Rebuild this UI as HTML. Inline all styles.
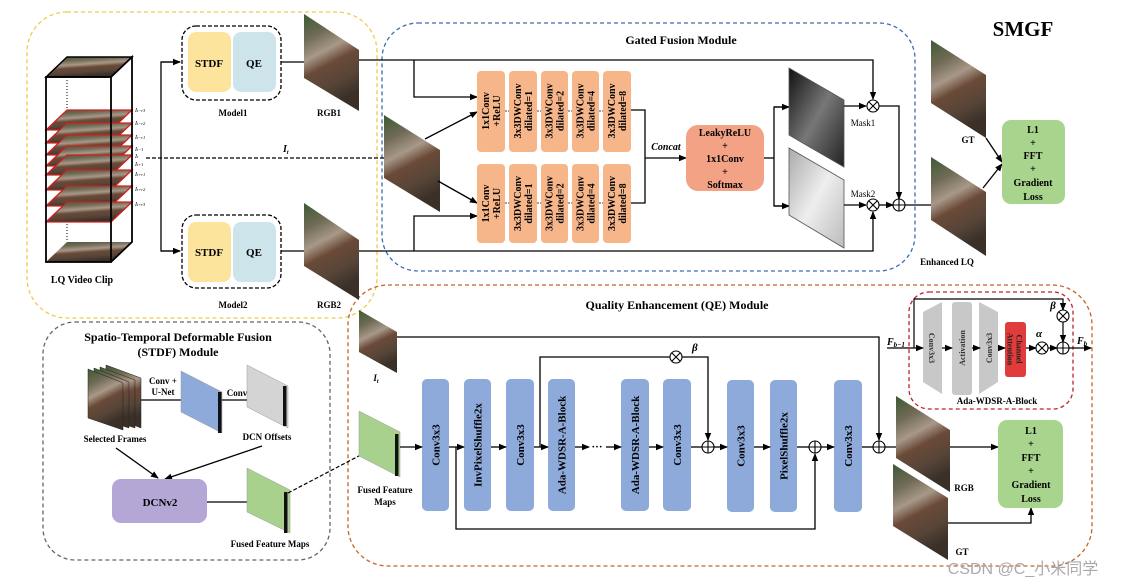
<!DOCTYPE html>
<html><head><meta charset="utf-8"><style>
html,body{margin:0;padding:0;background:#fff;}
svg{display:block;font-family:"Liberation Serif",serif;font-weight:bold;}
</style></head><body>
<svg width="1124" height="587" viewBox="0 0 1124 587" xmlns="http://www.w3.org/2000/svg">
<defs>
<marker id="a" markerWidth="8" markerHeight="8" refX="7" refY="4" orient="auto" markerUnits="userSpaceOnUse"><path d="M0,0.8 L8,4 L0,7.2 Z" fill="#000"/></marker>
<linearGradient id="ph" x1="0" y1="0" x2="0.3" y2="1">
<stop offset="0" stop-color="#3d5a35"/><stop offset="0.25" stop-color="#6f6a55"/><stop offset="0.45" stop-color="#a89888"/><stop offset="0.6" stop-color="#6a4a38"/><stop offset="0.8" stop-color="#574538"/><stop offset="1" stop-color="#3a3028"/></linearGradient>
<linearGradient id="m1" x1="0" y1="0" x2="1" y2="1"><stop offset="0" stop-color="#111"/><stop offset="0.5" stop-color="#777"/><stop offset="1" stop-color="#222"/></linearGradient>
<linearGradient id="m2" x1="0" y1="0" x2="1" y2="1"><stop offset="0" stop-color="#aaa"/><stop offset="0.5" stop-color="#eee"/><stop offset="1" stop-color="#bbb"/></linearGradient>
</defs>

<!-- module boxes -->
<rect x="27" y="12" width="350" height="306" rx="40" fill="none" stroke="#f2c94c" stroke-width="1.3" stroke-dasharray="4,3"/>
<rect x="382" y="23" width="533" height="248" rx="36" fill="none" stroke="#3b6db0" stroke-width="1.3" stroke-dasharray="4,3"/>
<rect x="348" y="285" width="744" height="281" rx="40" fill="none" stroke="#c8622a" stroke-width="1.3" stroke-dasharray="4,3"/>
<rect x="43" y="322" width="287" height="238" rx="32" fill="none" stroke="#666" stroke-width="1.3" stroke-dasharray="4,3"/>
<rect x="909" y="292" width="164" height="117" rx="20" fill="none" stroke="#c0202a" stroke-width="1.3" stroke-dasharray="4,3"/>

<!-- cube -->
<polygon points="46,77 67,57 132,57 111,77" fill="url(#ph)" stroke="#000" stroke-width="1.5"/>
<polygon points="46,262 67,242 132,242 111,262" fill="url(#ph)"/>
<line x1="67" y1="77" x2="67" y2="242" stroke="#000" stroke-dasharray="1,2"/>
<g stroke="#d02020" stroke-width="1.3" fill="url(#ph)">
<polygon points="46,130 67,110 132,110 111,130"/>
<polygon points="46,143 67,123 132,123 111,143"/>
<polygon points="46,155 67,135 132,135 111,155"/>
<polygon points="46,166 67,146 132,146 111,166"/>
<polygon points="46,175 67,155 132,155 111,175"/>
<polygon points="46,190 67,170 132,170 111,190"/>
<polygon points="46,206 67,186 132,186 111,206"/>
<polygon points="46,222 67,202 132,202 111,222"/>
</g>
<rect x="46" y="77" width="65" height="185" fill="none" stroke="#000" stroke-width="1.8"/>
<polyline points="111,77 132,57 132,242 111,262" fill="none" stroke="#000" stroke-width="1.8"/>
<g font-size="6" font-style="italic" font-weight="normal">
<text x="135" y="112">I<tspan font-size="4.5">t−r3</tspan></text>
<text x="135" y="125">I<tspan font-size="4.5">t−r2</tspan></text>
<text x="135" y="139">I<tspan font-size="4.5">t−r1</tspan></text>
<text x="135" y="151">I<tspan font-size="4.5">t−1</tspan></text>
<text x="135" y="158">I<tspan font-size="4.5">t</tspan></text>
<text x="135" y="166">I<tspan font-size="4.5">t+1</tspan></text>
<text x="135" y="176">I<tspan font-size="4.5">t+r1</tspan></text>
<text x="135" y="191">I<tspan font-size="4.5">t+r2</tspan></text>
<text x="135" y="206">I<tspan font-size="4.5">t+r3</tspan></text>
</g>
<text x="82" y="283" font-size="10" text-anchor="middle">LQ Video Clip</text>

<!-- branches -->
<polyline points="180,62 161,62 161,251 180,251" fill="none" stroke="#000" stroke-width="1.3"/>
<line x1="161" y1="62" x2="180" y2="62" stroke="#000" stroke-width="1.3" marker-end="url(#a)"/>
<line x1="161" y1="251" x2="180" y2="251" stroke="#000" stroke-width="1.3" marker-end="url(#a)"/>
<line x1="146" y1="158" x2="399" y2="158" stroke="#000" stroke-width="1.2" stroke-dasharray="4,2" marker-end="url(#a)"/>
<text x="283" y="152" font-size="10" font-style="italic">I<tspan font-size="6" dy="2">t</tspan></text>

<!-- Model1 / Model2 -->
<g>
<rect x="182" y="26" width="99" height="74" rx="14" fill="none" stroke="#000" stroke-width="1.3" stroke-dasharray="4,2"/>
<rect x="188" y="32" width="43" height="60" rx="8" fill="#fde49c"/>
<rect x="233" y="32" width="43" height="60" rx="8" fill="#cde4ea"/>
<text x="209" y="67" font-size="11" text-anchor="middle">STDF</text>
<text x="254" y="67" font-size="11" text-anchor="middle">QE</text>
<text x="233" y="116" font-size="9" text-anchor="middle">Model1</text>
<rect x="182" y="215" width="99" height="73" rx="14" fill="none" stroke="#000" stroke-width="1.3" stroke-dasharray="4,2"/>
<rect x="188" y="222" width="43" height="60" rx="8" fill="#fde49c"/>
<rect x="233" y="222" width="43" height="60" rx="8" fill="#cde4ea"/>
<text x="209" y="256" font-size="11" text-anchor="middle">STDF</text>
<text x="254" y="256" font-size="11" text-anchor="middle">QE</text>
<text x="233" y="308" font-size="9" text-anchor="middle">Model2</text>
</g>
<line x1="281" y1="62" x2="318" y2="62" stroke="#000" stroke-width="1.3" marker-end="url(#a)"/>
<line x1="281" y1="251" x2="318" y2="251" stroke="#000" stroke-width="1.3" marker-end="url(#a)"/>
<polygon points="304,14 359,50 359,111 304,78" fill="url(#ph)"/>
<polygon points="304,203 359,240 359,300 304,266" fill="url(#ph)"/>
<text x="329" y="116" font-size="9" text-anchor="middle">RGB1</text>
<text x="329" y="308" font-size="9" text-anchor="middle">RGB2</text>

<!-- gated fusion -->
<text x="681" y="44" font-size="12" text-anchor="middle">Gated Fusion Module</text>
<polyline points="359,60 873,60 873,99" fill="none" stroke="#000" stroke-width="1.3" marker-end="url(#a)"/>
<polyline points="359,251 873,251 873,212" fill="none" stroke="#000" stroke-width="1.3" marker-end="url(#a)"/>
<polyline points="414,60 414,97 477,97" fill="none" stroke="#000" stroke-width="1.3" marker-end="url(#a)"/>
<polyline points="414,251 414,216 477,216" fill="none" stroke="#000" stroke-width="1.3" marker-end="url(#a)"/>
<polygon points="384,115 440,150 440,212 384,178" fill="url(#ph)"/>
<line x1="425" y1="139" x2="477" y2="112" stroke="#000" stroke-width="1.3" marker-end="url(#a)"/>
<line x1="438" y1="181" x2="477" y2="203" stroke="#000" stroke-width="1.3" marker-end="url(#a)"/>

<g fill="#f6b68a">
<rect x="477" y="71" width="28" height="81" rx="4"/><rect x="509" y="71" width="28" height="81" rx="4"/><rect x="541" y="71" width="27" height="81" rx="4"/><rect x="572" y="71" width="27" height="81" rx="4"/><rect x="603" y="71" width="28" height="81" rx="4"/>
<rect x="477" y="164" width="28" height="79" rx="4"/><rect x="509" y="164" width="28" height="79" rx="4"/><rect x="541" y="164" width="27" height="79" rx="4"/><rect x="572" y="164" width="27" height="79" rx="4"/><rect x="603" y="164" width="28" height="79" rx="4"/>
</g>
<g stroke="#000" stroke-width="0.8" stroke-dasharray="2,1"><line x1="505" y1="111" x2="509" y2="111"/><line x1="537" y1="111" x2="541" y2="111"/><line x1="568" y1="111" x2="572" y2="111"/><line x1="599" y1="111" x2="603" y2="111"/><line x1="505" y1="203" x2="509" y2="203"/><line x1="537" y1="203" x2="541" y2="203"/><line x1="568" y1="203" x2="572" y2="203"/><line x1="599" y1="203" x2="603" y2="203"/></g>
<g font-size="10" text-anchor="middle">
<text transform="translate(491,111) rotate(-90)"><tspan x="0" y="-2">1x1Conv</tspan><tspan x="0" y="9">+ReLU</tspan></text>
<text transform="translate(523,111) rotate(-90)"><tspan x="0" y="-2">3x3DWConv</tspan><tspan x="0" y="9">dilated=1</tspan></text>
<text transform="translate(554.5,111) rotate(-90)"><tspan x="0" y="-2">3x3DWConv</tspan><tspan x="0" y="9">dilated=2</tspan></text>
<text transform="translate(585.5,111) rotate(-90)"><tspan x="0" y="-2">3x3DWConv</tspan><tspan x="0" y="9">dilated=4</tspan></text>
<text transform="translate(617,111) rotate(-90)"><tspan x="0" y="-2">3x3DWConv</tspan><tspan x="0" y="9">dilated=8</tspan></text>
<text transform="translate(491,203.5) rotate(-90)"><tspan x="0" y="-2">1x1Conv</tspan><tspan x="0" y="9">+ReLU</tspan></text>
<text transform="translate(523,203.5) rotate(-90)"><tspan x="0" y="-2">3x3DWConv</tspan><tspan x="0" y="9">dilated=1</tspan></text>
<text transform="translate(554.5,203.5) rotate(-90)"><tspan x="0" y="-2">3x3DWConv</tspan><tspan x="0" y="9">dilated=2</tspan></text>
<text transform="translate(585.5,203.5) rotate(-90)"><tspan x="0" y="-2">3x3DWConv</tspan><tspan x="0" y="9">dilated=4</tspan></text>
<text transform="translate(617,203.5) rotate(-90)"><tspan x="0" y="-2">3x3DWConv</tspan><tspan x="0" y="9">dilated=8</tspan></text>
</g>
<polyline points="631,110 645,110 645,203 631,203" fill="none" stroke="#000" stroke-width="1.3"/>
<line x1="645" y1="158" x2="686" y2="158" stroke="#000" stroke-width="1.3" marker-end="url(#a)"/>
<text x="666" y="150" font-size="10" font-style="italic" text-anchor="middle">Concat</text>
<rect x="686" y="125" width="78" height="66" rx="12" fill="#f3a285"/>
<g font-size="10" text-anchor="middle"><text x="725" y="136">LeakyReLU</text><text x="725" y="149">+</text><text x="725" y="162">1x1Conv</text><text x="725" y="175">+</text><text x="725" y="188">Softmax</text></g>
<polyline points="764,158 774,158" fill="none" stroke="#000" stroke-width="1.3"/>
<polyline points="789,107 774,107 774,206 789,206" fill="none" stroke="#000" stroke-width="1.3"/>
<line x1="774" y1="107" x2="789" y2="107" stroke="#000" stroke-width="1.3" marker-end="url(#a)"/>
<line x1="774" y1="206" x2="789" y2="206" stroke="#000" stroke-width="1.3" marker-end="url(#a)"/>
<polygon points="789,68 844,100 844,167 789,135" fill="url(#m1)" stroke="#555" stroke-width="0.8"/>
<polygon points="789,148 844,180 844,248 789,215" fill="url(#m2)" stroke="#555" stroke-width="0.8"/>
<line x1="844" y1="106" x2="866" y2="106" stroke="#000" stroke-width="1.3" marker-end="url(#a)"/>
<line x1="844" y1="205" x2="866" y2="205" stroke="#000" stroke-width="1.3" marker-end="url(#a)"/>
<text x="863" y="126" font-size="9" font-weight="normal" text-anchor="middle">Mask1</text>
<text x="863" y="197" font-size="9" font-weight="normal" text-anchor="middle">Mask2</text>
<g fill="#fff" stroke="#000" stroke-width="1.1">
<circle cx="873" cy="106" r="6"/><circle cx="873" cy="205" r="6"/><circle cx="899" cy="205" r="6"/>
</g>
<g stroke="#000" stroke-width="1.1"><path d="M869,102 L877,110 M877,102 L869,110 M869,201 L877,209 M877,201 L869,209 M893,205 L905,205 M899,199 L899,211"/></g>
<polyline points="879,106 899,106 899,199" fill="none" stroke="#000" stroke-width="1.3" marker-end="url(#a)"/>
<line x1="879" y1="205" x2="893" y2="205" stroke="#000" stroke-width="1.3" marker-end="url(#a)"/>
<line x1="905" y1="205" x2="946" y2="205" stroke="#000" stroke-width="1.3" marker-end="url(#a)"/>
<text x="1023" y="36" font-size="21" text-anchor="middle">SMGF</text>
<polygon points="931,40 986,75 986,138 931,103" fill="url(#ph)"/>
<polygon points="931,157 986,192 986,256 931,220" fill="url(#ph)"/>
<text x="968" y="143" font-size="9" text-anchor="middle">GT</text>
<text x="947" y="265" font-size="9" text-anchor="middle">Enhanced LQ</text>
<line x1="986" y1="138" x2="1002" y2="162" stroke="#000" stroke-width="1.3" marker-end="url(#a)"/>
<line x1="983" y1="188" x2="1002" y2="164" stroke="#000" stroke-width="1.3" marker-end="url(#a)"/>
<rect x="1002" y="120" width="63" height="84" rx="9" fill="#a8d48d"/>
<g font-size="10" text-anchor="middle"><text x="1033" y="133">L1</text><text x="1033" y="146">+</text><text x="1033" y="159">FFT</text><text x="1033" y="172">+</text><text x="1033" y="186">Gradient</text><text x="1033" y="200">Loss</text></g>

<!-- STDF module -->
<text x="178" y="341" font-size="12" text-anchor="middle">Spatio-Temporal Deformable Fusion</text>
<text x="178" y="356" font-size="12" text-anchor="middle">(STDF) Module</text>
<polygon points="106,365 141,378 141,428 106,414" fill="url(#ph)" stroke="#222" stroke-width="0.5"/>
<polygon points="100,367 135,380 135,428 100,416" fill="url(#ph)" stroke="#222" stroke-width="0.5"/>
<polygon points="94,368 129,382 129,428 94,417" fill="url(#ph)" stroke="#222" stroke-width="0.5"/>
<polygon points="88,369 123,383 123,430 88,418" fill="url(#ph)" stroke="#222" stroke-width="0.5"/>
<line x1="141" y1="400" x2="192" y2="400" stroke="#000" stroke-width="1.3" marker-end="url(#a)"/>
<text x="163" y="384" font-size="9" text-anchor="middle">Conv +</text>
<text x="163" y="395" font-size="9" text-anchor="middle">U-Net</text>
<polygon points="181,371 222,392 222,433 181,412" fill="#8eaadb" stroke="#999" stroke-width="0.5"/>
<rect x="218" y="392" width="3.5" height="41" fill="#111"/>
<line x1="222" y1="400" x2="262" y2="400" stroke="#000" stroke-width="1.3" marker-end="url(#a)"/>
<text x="237" y="396" font-size="9" text-anchor="middle">Conv</text>
<polygon points="247,365 288,386 288,428 247,407" fill="#d4d4d4" stroke="#999" stroke-width="0.5"/>
<rect x="283" y="386" width="3.5" height="40" fill="#111"/>
<text x="115" y="442" font-size="9" text-anchor="middle">Selected Frames</text>
<text x="267" y="440" font-size="9" text-anchor="middle">DCN Offsets</text>
<line x1="116" y1="448" x2="158" y2="478" stroke="#000" stroke-width="1.3" marker-end="url(#a)"/>
<line x1="262" y1="446" x2="165" y2="479" stroke="#000" stroke-width="1.3" marker-end="url(#a)"/>
<rect x="112" y="479" width="95" height="44" rx="9" fill="#b4a7d6"/>
<text x="160" y="506" font-size="11" text-anchor="middle">DCNv2</text>
<line x1="207" y1="502" x2="262" y2="502" stroke="#000" stroke-width="1.3" marker-end="url(#a)"/>
<polygon points="247,468 290,490 290,533 247,512" fill="#a9d18e" stroke="#999" stroke-width="0.5"/>
<rect x="284" y="492" width="3.5" height="41" fill="#111"/>
<text x="270" y="547" font-size="9" text-anchor="middle">Fused Feature Maps</text>
<line x1="288" y1="493" x2="376" y2="447" stroke="#000" stroke-width="1.2" stroke-dasharray="4,2" marker-end="url(#a)"/>

<!-- QE module -->
<text x="677" y="309" font-size="12" text-anchor="middle">Quality Enhancement (QE) Module</text>
<polygon points="359,310 397,332 397,373 359,352" fill="url(#ph)"/>
<text x="376" y="381" font-size="9" font-style="italic" text-anchor="middle">I<tspan font-size="6" dy="2">t</tspan></text>
<polyline points="397,337 879,337 879,440" fill="none" stroke="#000" stroke-width="1.3" marker-end="url(#a)"/>
<polygon points="359,411 400,432 400,477 359,456" fill="#a9d18e" stroke="#999" stroke-width="0.5"/>
<rect x="395" y="434" width="3.5" height="42" fill="#111"/>
<text x="385" y="493" font-size="9" text-anchor="middle">Fused Feature</text>
<text x="385" y="505" font-size="9" text-anchor="middle">Maps</text>
<g fill="#8eaadb">
<rect x="422" y="379" width="27" height="132" rx="5"/>
<rect x="464" y="379" width="27" height="132" rx="5"/>
<rect x="506" y="379" width="28" height="132" rx="5"/>
<rect x="548" y="379" width="27" height="132" rx="5"/>
<rect x="621" y="379" width="28" height="132" rx="5"/>
<rect x="663" y="379" width="28" height="132" rx="5"/>
<rect x="727" y="380" width="27" height="132" rx="5"/>
<rect x="770" y="380" width="27" height="132" rx="5"/>
<rect x="834" y="380" width="28" height="132" rx="5"/>
</g>
<g font-size="11" text-anchor="middle">
<text transform="translate(439.5,445) rotate(-90)">Conv3x3</text>
<text transform="translate(481.5,445) rotate(-90)">InvPixelShuffle2x</text>
<text transform="translate(524,445) rotate(-90)">Conv3x3</text>
<text transform="translate(565.5,445) rotate(-90)">Ada-WDSR-A-Block</text>
<text transform="translate(639,445) rotate(-90)">Ada-WDSR-A-Block</text>
<text transform="translate(681,445) rotate(-90)">Conv3x3</text>
<text transform="translate(744.5,446) rotate(-90)">Conv3x3</text>
<text transform="translate(787.5,446) rotate(-90)">PixelShuffle2x</text>
<text transform="translate(852,446) rotate(-90)">Conv3x3</text>
</g>
<g stroke="#000" stroke-width="1.3">
<line x1="400" y1="447" x2="422" y2="447" marker-end="url(#a)"/>
<line x1="449" y1="447" x2="464" y2="447" marker-end="url(#a)"/>
<line x1="491" y1="447" x2="506" y2="447" marker-end="url(#a)"/>
<line x1="534" y1="447" x2="548" y2="447" marker-end="url(#a)"/>
<line x1="575" y1="447" x2="589" y2="447" marker-end="url(#a)"/>
<line x1="606" y1="447" x2="621" y2="447" marker-end="url(#a)"/>
<line x1="649" y1="447" x2="663" y2="447" marker-end="url(#a)"/>
<line x1="691" y1="447" x2="702" y2="447"/>
<line x1="714" y1="447" x2="727" y2="447" marker-end="url(#a)"/>
<line x1="754" y1="447" x2="770" y2="447" marker-end="url(#a)"/>
<line x1="797" y1="447" x2="809" y2="447"/>
<line x1="821" y1="447" x2="834" y2="447" marker-end="url(#a)"/>
<line x1="862" y1="447" x2="873" y2="447"/>
<line x1="885" y1="447" x2="916" y2="447" marker-end="url(#a)"/>
</g>
<text x="597" y="450" font-size="11" text-anchor="middle">···</text>
<polyline points="540,447 540,357 670,357" fill="none" stroke="#000" stroke-width="1.3"/>
<polyline points="682,357 708,357 708,440" fill="none" stroke="#000" stroke-width="1.3" marker-end="url(#a)"/>
<polyline points="456,447 456,529 815,529 815,454" fill="none" stroke="#000" stroke-width="1.3" marker-end="url(#a)"/>
<text x="692" y="351" font-size="11" font-style="italic">β</text>
<g fill="#fff" stroke="#000" stroke-width="1.1">
<circle cx="676" cy="357" r="6"/><circle cx="708" cy="447" r="6"/><circle cx="815" cy="447" r="6"/><circle cx="879" cy="447" r="6"/>
</g>
<g stroke="#000" stroke-width="1.1"><path d="M672,353 L680,361 M680,353 L672,361 M702,447 L714,447 M708,441 L708,453 M809,447 L821,447 M815,441 L815,453 M873,447 L885,447 M879,441 L879,453"/></g>

<!-- Ada-WDSR-A-Block -->
<polygon points="923,312 942,302 942,394 923,382" fill="#c8c8c8"/>
<rect x="952" y="302" width="20" height="93" rx="3" fill="#c8c8c8"/>
<polygon points="979,302 998,312 998,382 979,394" fill="#c8c8c8"/>
<rect x="1005" y="322" width="21" height="55" rx="3" fill="#e23b3b"/>
<g font-size="8" text-anchor="middle" fill="#333">
<text transform="translate(932,348) rotate(90)" dy="3">Conv3x3</text>
<text transform="translate(962,348) rotate(-90)" dy="3">Activation</text>
<text transform="translate(989,348) rotate(-90)" dy="3">Conv3x3</text>
<text transform="translate(1015.5,349) rotate(90)" fill="#222"><tspan x="0" y="-1">Channel</tspan><tspan x="0" y="8">Attention</tspan></text>
</g>
<g stroke="#000" stroke-width="1.2">
<line x1="887" y1="348" x2="923" y2="348" marker-end="url(#a)"/>
<line x1="942" y1="348" x2="952" y2="348" marker-end="url(#a)"/>
<line x1="972" y1="348" x2="980" y2="348" marker-end="url(#a)"/>
<line x1="998" y1="348" x2="1005" y2="348" marker-end="url(#a)"/>
<line x1="1026" y1="348" x2="1036" y2="348" marker-end="url(#a)"/>
<line x1="1048" y1="348" x2="1057" y2="348" marker-end="url(#a)"/>
<line x1="1069" y1="348" x2="1091" y2="348" marker-end="url(#a)"/>
</g>
<polyline points="914,348 914,299 1063,299 1063,310" fill="none" stroke="#000" stroke-width="1.2" marker-end="url(#a)"/>
<line x1="1063" y1="322" x2="1063" y2="342" stroke="#000" stroke-width="1.2" marker-end="url(#a)"/>
<g fill="#fff" stroke="#000" stroke-width="1.1"><circle cx="1042" cy="348" r="6"/><circle cx="1063" cy="316" r="6"/><circle cx="1063" cy="348" r="6"/></g>
<g stroke="#000" stroke-width="1.1"><path d="M1038,344 L1046,352 M1046,344 L1038,352 M1059,312 L1067,320 M1067,312 L1059,320 M1057,348 L1069,348 M1063,342 L1063,354"/></g>
<text x="1039" y="337" font-size="11" font-style="italic" text-anchor="middle">α</text>
<text x="1053" y="309" font-size="11" font-style="italic" text-anchor="middle">β</text>
<text x="887" y="345" font-size="10" font-style="italic">F<tspan font-size="7" dy="2">b−1</tspan></text>
<text x="1077" y="344" font-size="10" font-style="italic">F<tspan font-size="7" dy="2">b</tspan></text>
<text x="997" y="404" font-size="9" text-anchor="middle">Ada-WDSR-A-Block</text>

<polygon points="896,396 950,430 950,492 896,458" fill="url(#ph)"/>
<polygon points="893,464 948,498 948,560 893,526" fill="url(#ph)"/>
<line x1="950" y1="447" x2="998" y2="447" stroke="#000" stroke-width="1.3" marker-end="url(#a)"/>
<polyline points="948,523 1031,523 1031,508" fill="none" stroke="#000" stroke-width="1.3" marker-end="url(#a)"/>
<text x="964" y="491" font-size="9" text-anchor="middle">RGB</text>
<text x="962" y="555" font-size="9" text-anchor="middle">GT</text>
<rect x="998" y="420" width="65" height="88" rx="9" fill="#a8d48d"/>
<g font-size="10" text-anchor="middle"><text x="1031" y="434">L1</text><text x="1031" y="447">+</text><text x="1031" y="461">FFT</text><text x="1031" y="474">+</text><text x="1031" y="488">Gradient</text><text x="1031" y="502">Loss</text></g>

<text x="1023" y="574" font-size="16" font-weight="normal" fill="#aaa" text-anchor="middle" style='font-family:"Liberation Sans","Noto Sans CJK SC",sans-serif'>CSDN @C_小米同学</text>
</svg>
</body></html>
